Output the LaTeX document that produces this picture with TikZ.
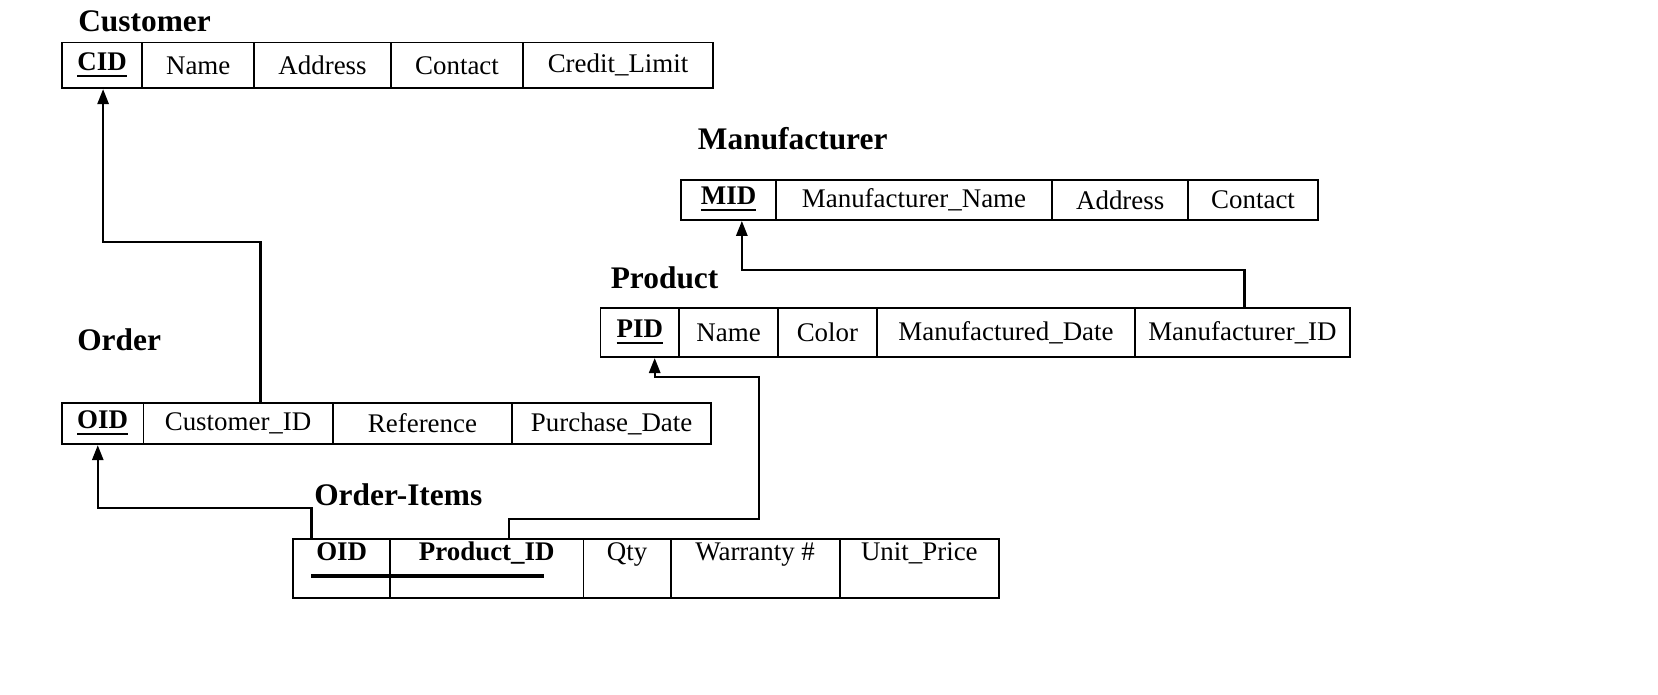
\documentclass[tikz,border=0pt]{standalone}
\usepackage{fontspec}
\setmainfont{Liberation Serif}
\usetikzlibrary{arrows.meta}
\newcommand\rcell[6]{\node[cellst,minimum width={(#3-#2)*0.01cm},minimum height={(#5-#4)*0.01cm}] (#1) at ({(#2+#3)/2},{(#4+#5)/2}) {#6};}
\begin{document}
\begin{tikzpicture}[x=0.01cm,y=-0.01cm,
 cellst/.style={draw,line width=0.5pt,inner sep=0pt,font=\fontsize{7.2}{9}\selectfont},
 ttl/.style={anchor=base west,inner sep=0pt,font=\fontsize{8.4}{10}\selectfont\bfseries},
 arr/.style={line width=0.6pt,-{Triangle[length=4pt,width=3pt]}}]
\useasboundingbox (0,0) rectangle (1560,653);
% Customer
\node[ttl] (tC) at (73,30) {Customer};
\rcell{cCID}{58}{134}{40}{83}{\textbf{\underline{CID}}}
\rcell{cName}{134}{239}{40}{83}{Name}
\rcell{cAddr}{239}{368}{40}{83}{Address}
\rcell{cCont}{368}{492}{40}{83}{Contact}
\rcell{cCred}{492}{671}{40}{83}{Credit\_Limit}
% Manufacturer
\node[ttl] (tM) at (656,141) {Manufacturer};
\rcell{mMID}{641}{730}{169}{207}{\textbf{\underline{MID}}}
\rcell{mName}{730}{990}{169}{207}{Manufacturer\_Name}
\rcell{mAddr}{990}{1118}{169}{207}{Address}
\rcell{mCont}{1118}{1240}{169}{207}{Contact}
% Product
\node[ttl] (tP) at (574,271) {Product};
\rcell{pPID}{565}{639}{290}{336}{\textbf{\underline{PID}}}
\rcell{pName}{639}{732}{290}{336}{Name}
\rcell{pCol}{732}{825}{290}{336}{Color}
\rcell{pDate}{825}{1068}{290}{336}{Manufactured\_Date}
\rcell{pMID}{1068}{1270}{290}{336}{Manufacturer\_ID}
% Order
\node[ttl] (tO) at (72,330) {Order};
\rcell{oOID}{58}{135}{379}{418}{\textbf{\underline{OID}}}
\rcell{oCID}{135}{313}{379}{418}{Customer\_ID}
\rcell{oRef}{313}{482}{379}{418}{Reference}
\rcell{oDate}{482}{669}{379}{418}{Purchase\_Date}
% Order-Items
\node[ttl] (tOI) at (295,476) {Order-Items};
\tikzset{cellst/.append style={text height=5.8pt,text depth=9.9pt}}
\rcell{iOID}{276}{367}{507}{563}{\textbf{OID}}
\rcell{iPID}{367}{549}{507}{563}{\textbf{Product\_ID}}
\rcell{iQty}{549}{631}{507}{563}{Qty}
\rcell{iWar}{631}{790}{507}{563}{Warranty \#}
\rcell{iPr}{790}{940}{507}{563}{Unit\_Price}
\draw[line width=1.2pt] (293,542) -- (512,542);
% connectors
\draw[arr] (oCID.north -| 245,0) -- (245,228) -- (97,228) -- (cCID.south -| 97,0);
\draw[arr] (pMID.north -| 1171,0) -- (1171,254) -- (698,254) -- (mMID.south -| 698,0);
\draw[arr] (iOID.north -| 293,0) -- (293,478) -- (92,478) -- (oOID.south -| 92,0);
\draw[arr] (iPID.north -| 479,0) -- (479,488) -- (714,488) -- (714,355) -- (616,355) -- (pPID.south -| 616,0);
\end{tikzpicture}
\end{document}
